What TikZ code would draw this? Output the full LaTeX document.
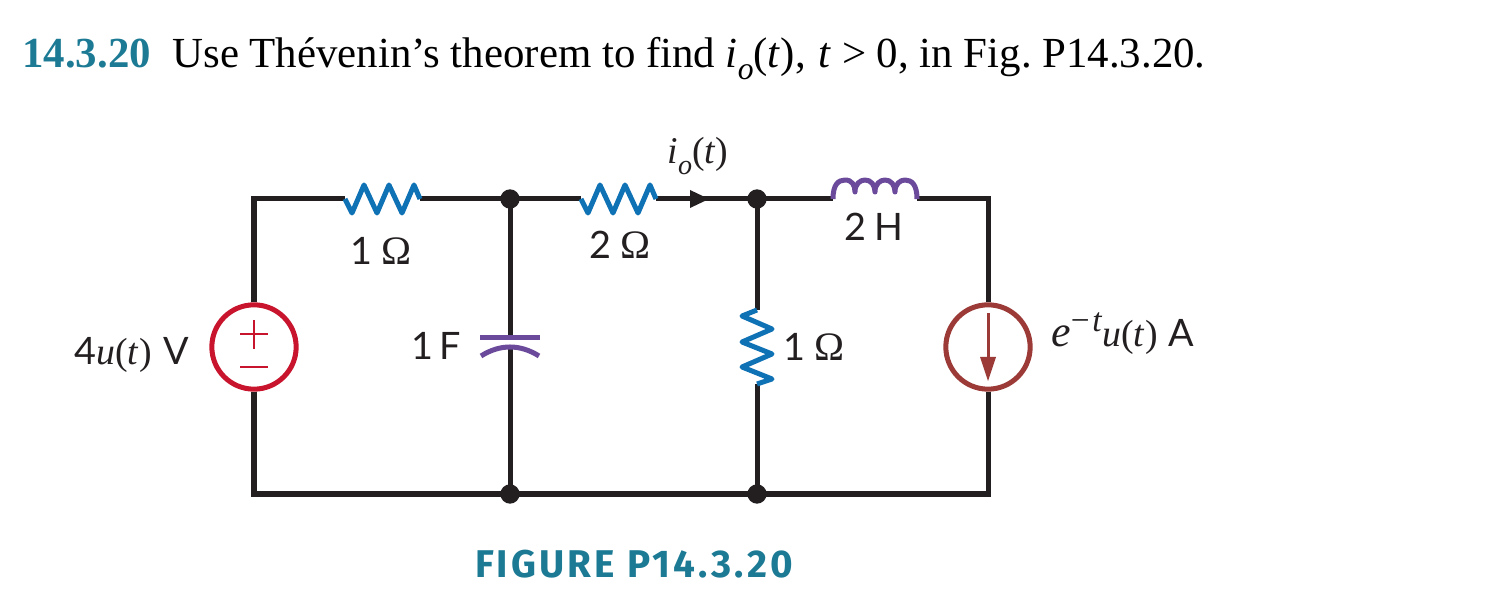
\documentclass[tikz,border=0pt]{standalone}
\usepackage{fontspec}
\setmainfont{Liberation Serif}
\newfontfamily\labelfont{Lato}
\newfontfamily\capfont[LetterSpace=8]{Fira Sans}
\definecolor{wirecol}{HTML}{231F20}
\definecolor{rescol}{HTML}{0F72B5}
\definecolor{indcol}{HTML}{6B4A9C}
\definecolor{vsrccol}{HTML}{C8152D}
\definecolor{isrccol}{HTML}{9B3A36}
\definecolor{headcol}{HTML}{1C7A94}
\newcommand{\sub}[2][16]{\raisebox{-0.28em}{\fontsize{#1}{#1}\selectfont #2}}
\newcommand{\ohms}{\textrm{\fontsize{23}{23}\selectfont Ω}}
\tikzset{
  wire/.style={line width=2.85pt, color=wirecol, line join=miter},
  res/.style={line width=2.85pt, color=rescol, line join=round},
  ind/.style={line width=2.85pt, color=indcol, line join=round},
  dot/.style={circle, fill=wirecol, inner sep=0pt, minimum size=11pt},
  src/.style={circle, draw, fill=white, line width=2.85pt, inner sep=0pt, minimum size=48pt},
  txt/.style={inner sep=0pt, font=\fontsize{21.5}{24}\selectfont, text=wirecol},
  lbl/.style={txt, font=\fontsize{21.5}{24}\selectfont\labelfont},
}
\begin{document}
\begin{tikzpicture}[x=0.02cm, y=-0.02cm]
\useasboundingbox (0,0) rectangle (1509,614);
% Corners and terminals
\foreach \name/\x/\y in {tl/254/199,bl/254/494,tr/988/199,br/988/494,r1a/345/199,r1b/420/199,r2a/581/199,r2b/656/199,r3a/757/310,r3b/757/384,l1a/833/199,l1b/917/199,c1a/510/338,c1b/510/347,ioa/690/190,iob/709/199,ioc/690/208} {
  \coordinate (\name) at (\x,\y);
}
% Junctions
\foreach \name/\x/\y in {n1/510/199,n2/757/199,n3/510/494,n4/757/494} {
  \node[dot] (\name) at (\x,\y) {};
}
% Sources
\node[src, draw=vsrccol] (vs) at (254,347) {};
\node[src, draw=isrccol] (is) at (988,347) {};
% Wires
\draw[wire] (vs.north) -- (tl) -- (r1a);
\draw[wire] (r1b) -- (n1.center) -- (r2a);
\draw[wire] (r2b) -- (n2.center) -- (l1a);
\draw[wire] (l1b) -- (tr) -- (is.north);
\draw[wire] (vs.south) -- (bl) -- (br) -- (is.south);
\draw[wire] (n1.center) -- (c1a);
\draw[wire] (c1b) -- (n3.center);
\draw[wire] (n2.center) -- (r3a);
\draw[wire] (r3b) -- (n4.center);
% Arrow on the wire
\path[fill=wirecol] (ioa) -- (iob) -- (ioc) -- cycle;
% Resistors
\foreach \a in {r1a,r2a} {
  \draw[res] (\a) -- ++(7,14) -- ++(12,-28) -- ++(13,28) -- ++(12,-28) -- ++(13,28) -- ++(12,-28) -- ++(6,14);
}
\draw[res] (r3a) -- ++(-15,6) -- ++(30,13) -- ++(-30,13) -- ++(30,12) -- ++(-30,13) -- ++(30,12) -- (r3b);
% Inductor
\draw[ind] (l1a) .. controls (833,185) and (838,180) .. (845,180) .. controls (852,180) and (855,185) .. (855,192)
  .. controls (855,184) and (860,180) .. (865,180) .. controls (871,180) and (875,185) .. (875,192)
  .. controls (875,184) and (880,180) .. (885,180) .. controls (891,180) and (895,185) .. (895,192)
  .. controls (895,184) and (900,180) .. (905,180) .. controls (912,180) and (917,185) .. (l1b);
% Capacitor
\draw[ind] (480,338) -- (540,338);
\draw[ind] (481,356) .. controls (500,344) and (520,344) .. (539,356);
% Signs of the sources
\draw[vsrccol, line width=1.5pt] (240,334) -- (268,334) (254,320) -- (254,349) (240,367) -- (268,367);
\coordinate (isa) at (988,313);
\coordinate (isb) at (988,381);
\draw[isrccol, line width=1.7pt] (isa) -- (988,360);
\path[fill=isrccol] (980,357) -- (isb) -- (996,357) -- cycle;
% Labels
\node[anchor=base west, inner sep=0pt, font=\fontsize{24.4}{28}\selectfont] (title) at (22,68) {\textcolor{headcol}{\bfseries 14.3.20}\hspace{0.5em}Use Thévenin’s theorem to find \textit{i}\sub[18]{\textit{o}}(\textit{t}),\hspace{0.3em}\textit{t} > 0, in Fig.\ P14.3.20.};
\node[txt, anchor=base] (iolbl) at (698,164) {\textit{i}\sub{\textit{o}}(\textit{t})};
\node[txt, anchor=base] (r1lbl) at (381,265) {\labelfont 1\hspace{0.22em}\ohms};
\node[txt, anchor=base] (r2lbl) at (620,259) {\labelfont 2\hspace{0.22em}\ohms};
\node[txt, anchor=base] (r3lbl) at (814,361) {\labelfont 1\hspace{0.22em}\ohms};
\node[lbl, anchor=base] (l1lbl) at (874,241) {2\hspace{0.22em}H};
\node[lbl, anchor=base] (c1lbl) at (436,360) {1\,F};
\node[txt, anchor=base east] (vslbl) at (189,365) {\labelfont 4\textrm{\textit{u}(\textit{t})}\hspace{0.3em}V};
\node[txt, anchor=base west] (islbl) at (1051,347) {{\fontsize{25}{25}\selectfont\textit{e}}\raisebox{0.42em}{\fontsize{19}{19}\selectfont −\hspace{0.08em}\textit{t}}\textit{u}(\textit{t})\hspace{0.3em}\labelfont A};
\node[anchor=base, inner sep=0pt, text=headcol, font=\fontsize{22}{26}\selectfont\capfont\bfseries] (figlbl) at (634,578) {FIGURE P14.3.20};
\end{tikzpicture}
\end{document}
